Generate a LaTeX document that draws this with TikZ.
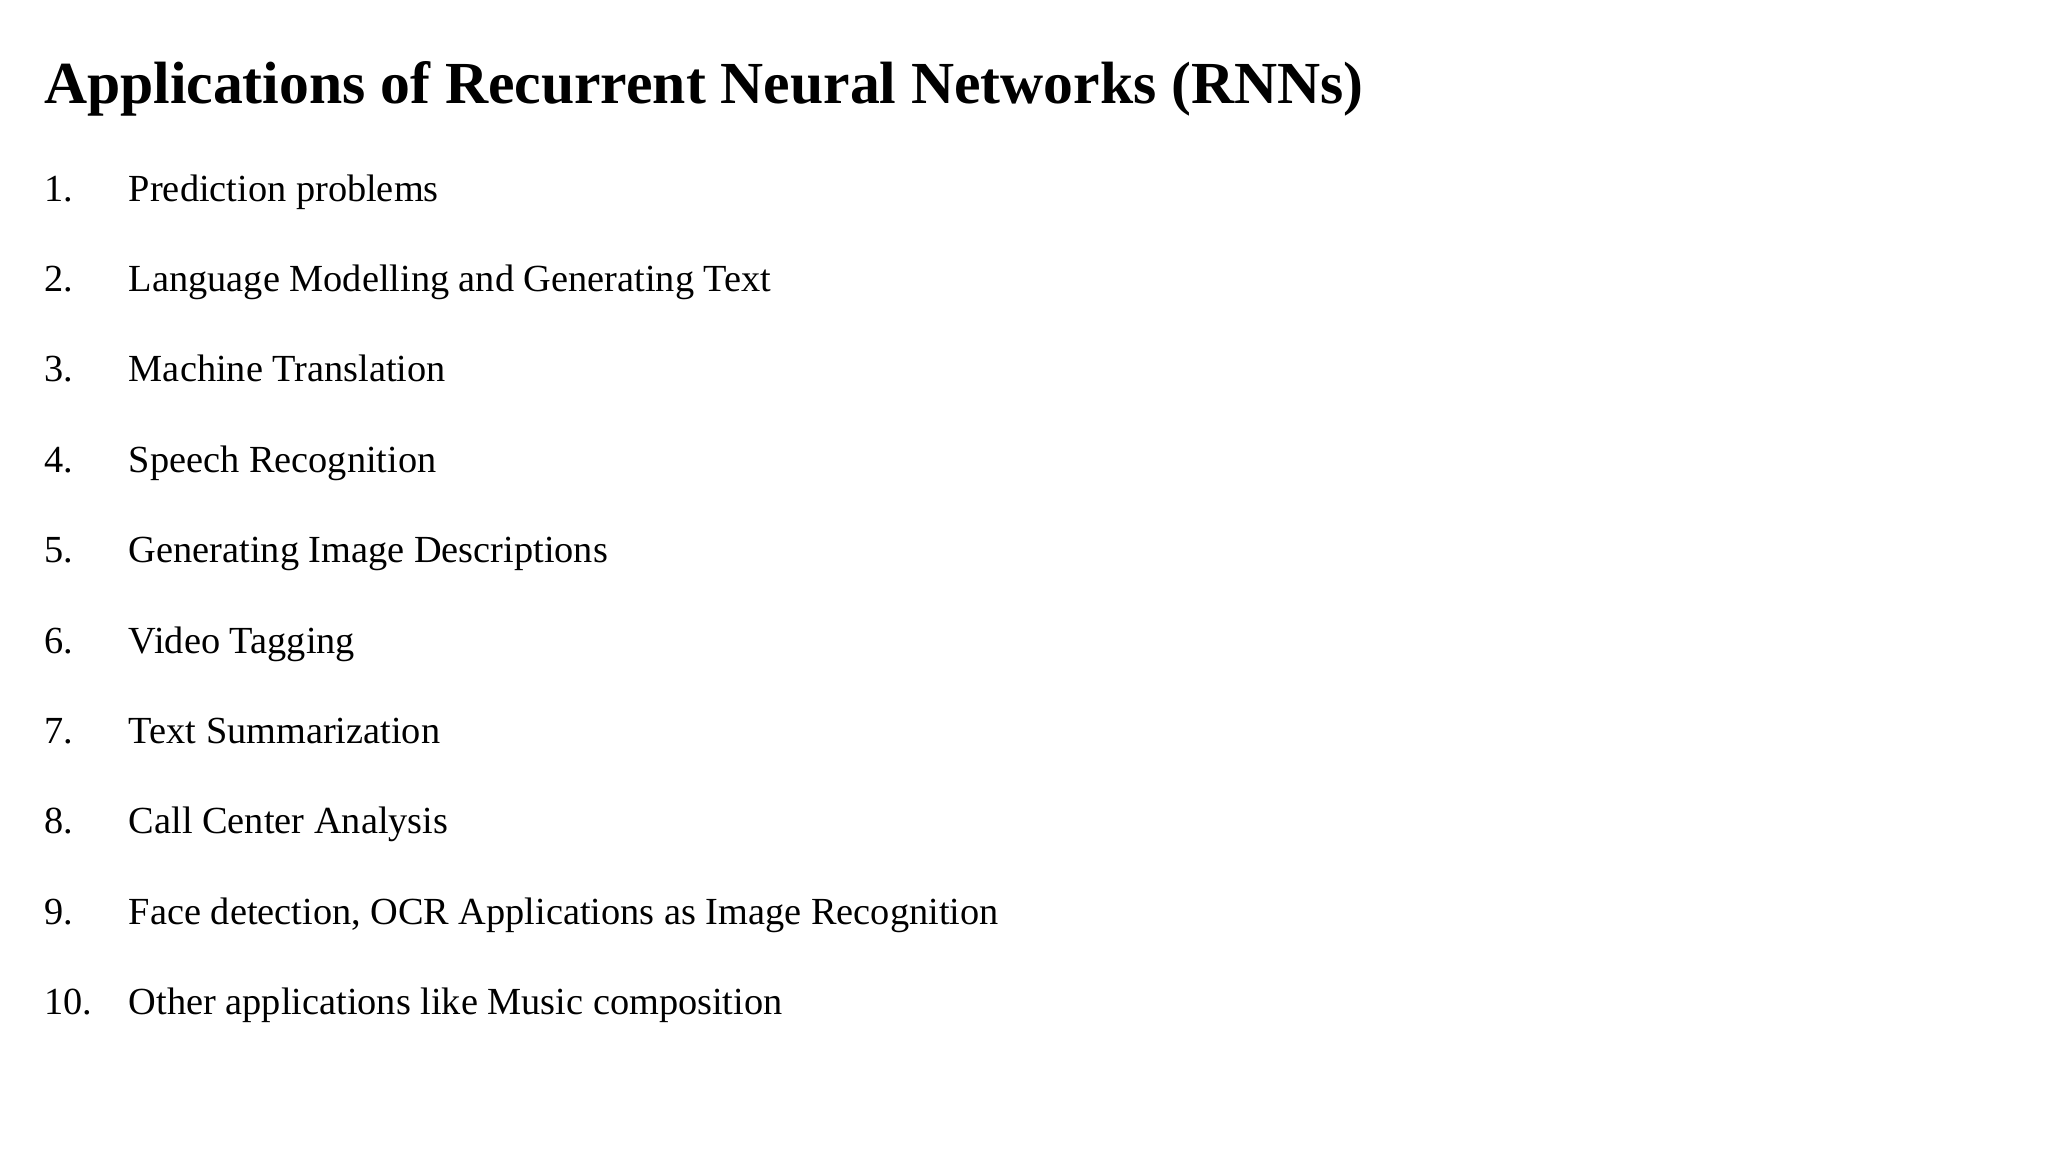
\documentclass[tikz,border=0pt]{standalone}
\usepackage{fontspec}
\setmainfont{Liberation Serif}
\begin{document}
\begin{tikzpicture}[x=0.1mm,y=-0.1mm,
  txt/.style={anchor=base west,inner sep=0pt,font=\fontsize{8.35pt}{10pt}\selectfont},
  ttl/.style={anchor=base west,inner sep=0pt,font=\fontsize{13pt}{16pt}\selectfont\bfseries}]
\useasboundingbox[fill=white] (0,0) rectangle (1568,882);
\node[ttl] (title) at (33,79) {Applications of Recurrent Neural Networks (RNNs)};
\foreach \i/\t in {1/Prediction problems,2/Language Modelling and Generating Text,3/Machine Translation,4/Speech Recognition,5/Generating Image Descriptions,6/Video Tagging,7/Text Summarization,8/Call Center Analysis,9/{Face detection, OCR Applications as Image Recognition},10/Other applications like Music composition}{
  \node[txt] (n\i) at (33,{154+69.2*(\i-1)}) {\i.};
  \node[txt] (t\i) at (98,{154+69.2*(\i-1)}) {\t};
}
\end{tikzpicture}
\end{document}
